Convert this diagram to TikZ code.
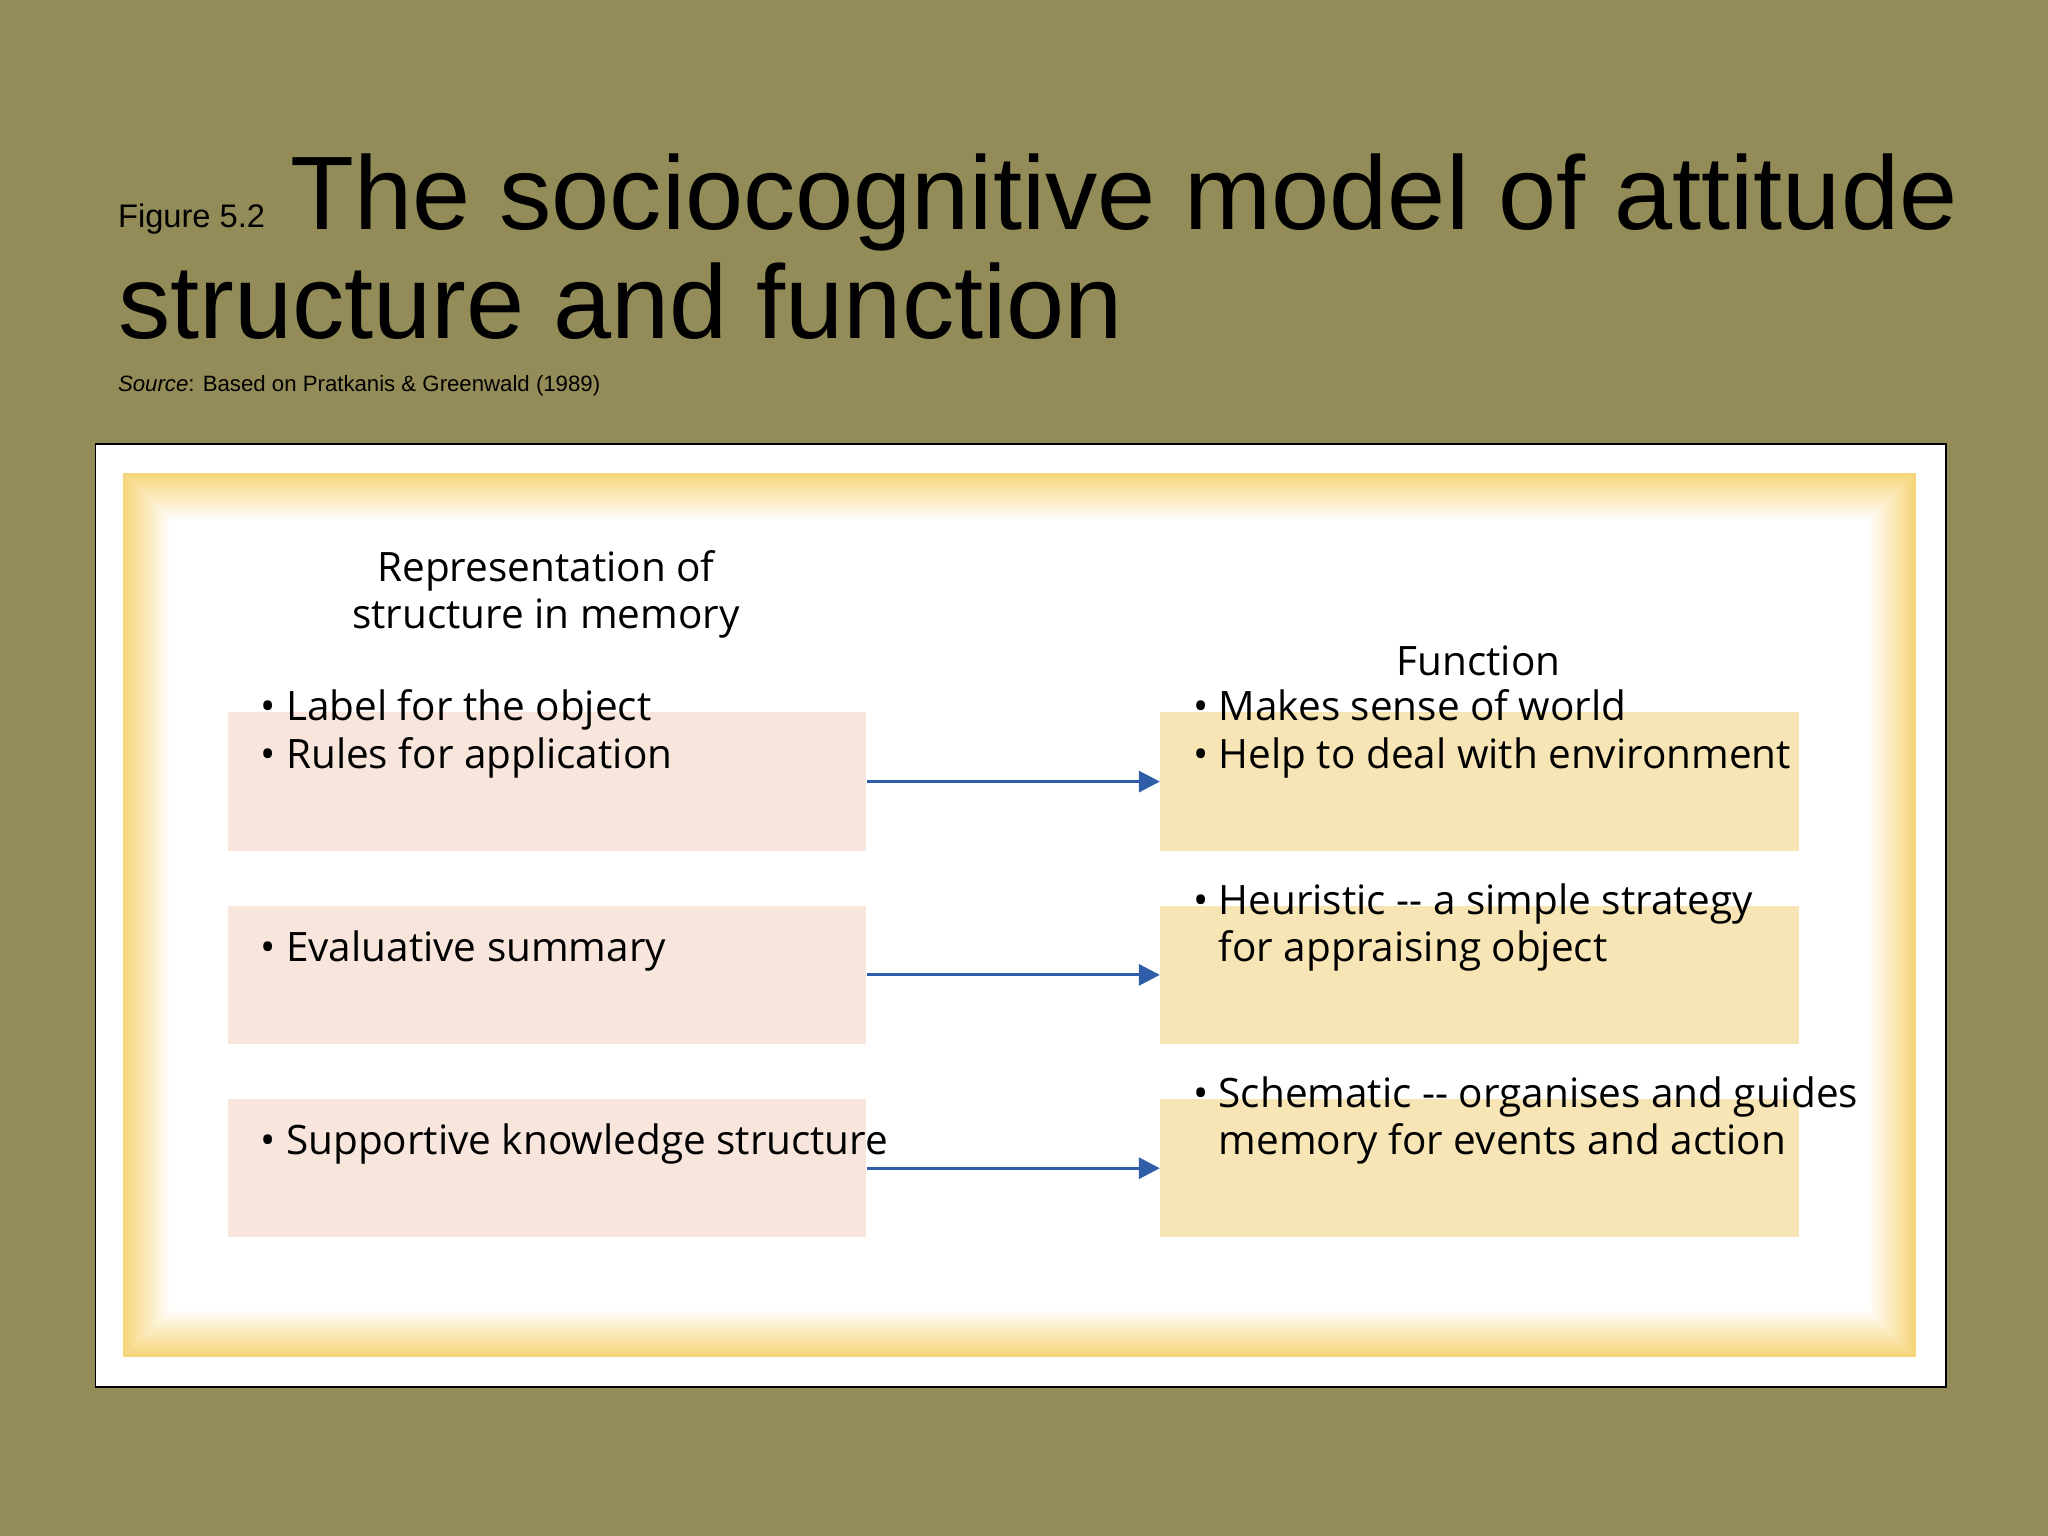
\documentclass[tikz,border=0pt]{standalone}
\usepackage{fontspec}
\setmainfont{Liberation Sans}
\newfontfamily\boxfont{Open Sans}
\definecolor{olive}{HTML}{938C58}
\definecolor{glow}{HTML}{F6D57A}
\definecolor{lbox}{HTML}{F8E6DD}
\definecolor{rbox}{HTML}{F7E5B5}
\definecolor{arr}{HTML}{2F5DA8}
\usetikzlibrary{arrows.meta}
\tikzset{
 lb/.style={fill=lbox,draw=none,minimum width=244.5pt,minimum height=53pt,anchor=north west},
 rb/.style={fill=rbox,draw=none,minimum width=244.5pt,minimum height=53pt,anchor=north west},
 txt/.style={anchor=base west,inner sep=0pt,font=\boxfont\fontsize{15.5}{18}\selectfont,align=left},
 hdr/.style={anchor=base,inner sep=0pt,font=\boxfont\fontsize{15.5}{18}\selectfont,align=center},
 conn/.style={draw=arr,line width=1.2pt,-{Triangle[length=8pt,width=8pt]}}
}
\begin{document}
\begin{tikzpicture}[x=0.5pt,y=-0.5pt]
\useasboundingbox (0,0) rectangle (1568,1176);
\fill[olive] (0,0) rectangle (1568,1176);
\fill[white,draw=black,line width=0.5pt] (73,340) rectangle (1490,1062);
\foreach \i in {0,...,18}{
  \pgfmathsetmacro{\p}{100-\i*100/18}
  \fill[glow!\p!white] (94+2*\i,362+2*\i) rectangle (1467-2*\i,1039-2*\i);
}
\node[inner sep=0pt,anchor=base west,font=\fontsize{12.5}{15}\selectfont] (fig) at (90,174) {Figure 5.2};
\node[inner sep=0pt,anchor=base west,font=\fontsize{40}{48}\selectfont] (t1) at (222,176) {The sociocognitive model of attitude};
\node[inner sep=0pt,anchor=base west,font=\fontsize{40}{48}\selectfont] (t2) at (90,259) {structure and function};
\node[inner sep=0pt,anchor=base west,font=\fontsize{8.5}{10}\selectfont] (src) at (90,300) {\textit{Source}: Based on Pratkanis \& Greenwald (1989)};
\node[hdr] (h1) at (418,481) {Representation of\\structure in memory};
\node[hdr] (h2) at (1132,517) {Function};
\node[lb] (l1) at (174,545) {};
\node[lb] (l2) at (174,693) {};
\node[lb] (l3) at (174,841) {};
\node[rb] (r1) at (888,545) {};
\node[rb] (r2) at (888,693) {};
\node[rb] (r3) at (888,841) {};
\node[txt] at (199,588) {\textbullet\ Label for the object\\[0pt]\textbullet\ Rules for application};
\node[txt] at (199,736) {\textbullet\ Evaluative summary};
\node[txt] at (199,884) {\textbullet\ Supportive knowledge structure};
\node[txt] at (913,588) {\textbullet\ Makes sense of world\\\textbullet\ Help to deal with environment};
\node[txt] at (913,736) {\textbullet\ Heuristic -- a simple strategy\\\phantom{\textbullet}\ for appraising object};
\node[txt] at (913,884) {\textbullet\ Schematic -- organises and guides\\\phantom{\textbullet}\ memory for events and action};
\draw[conn] (l1.east) -- (r1.west);
\draw[conn] (l2.east) -- (r2.west);
\draw[conn] (l3.east) -- (r3.west);
\end{tikzpicture}
\end{document}
